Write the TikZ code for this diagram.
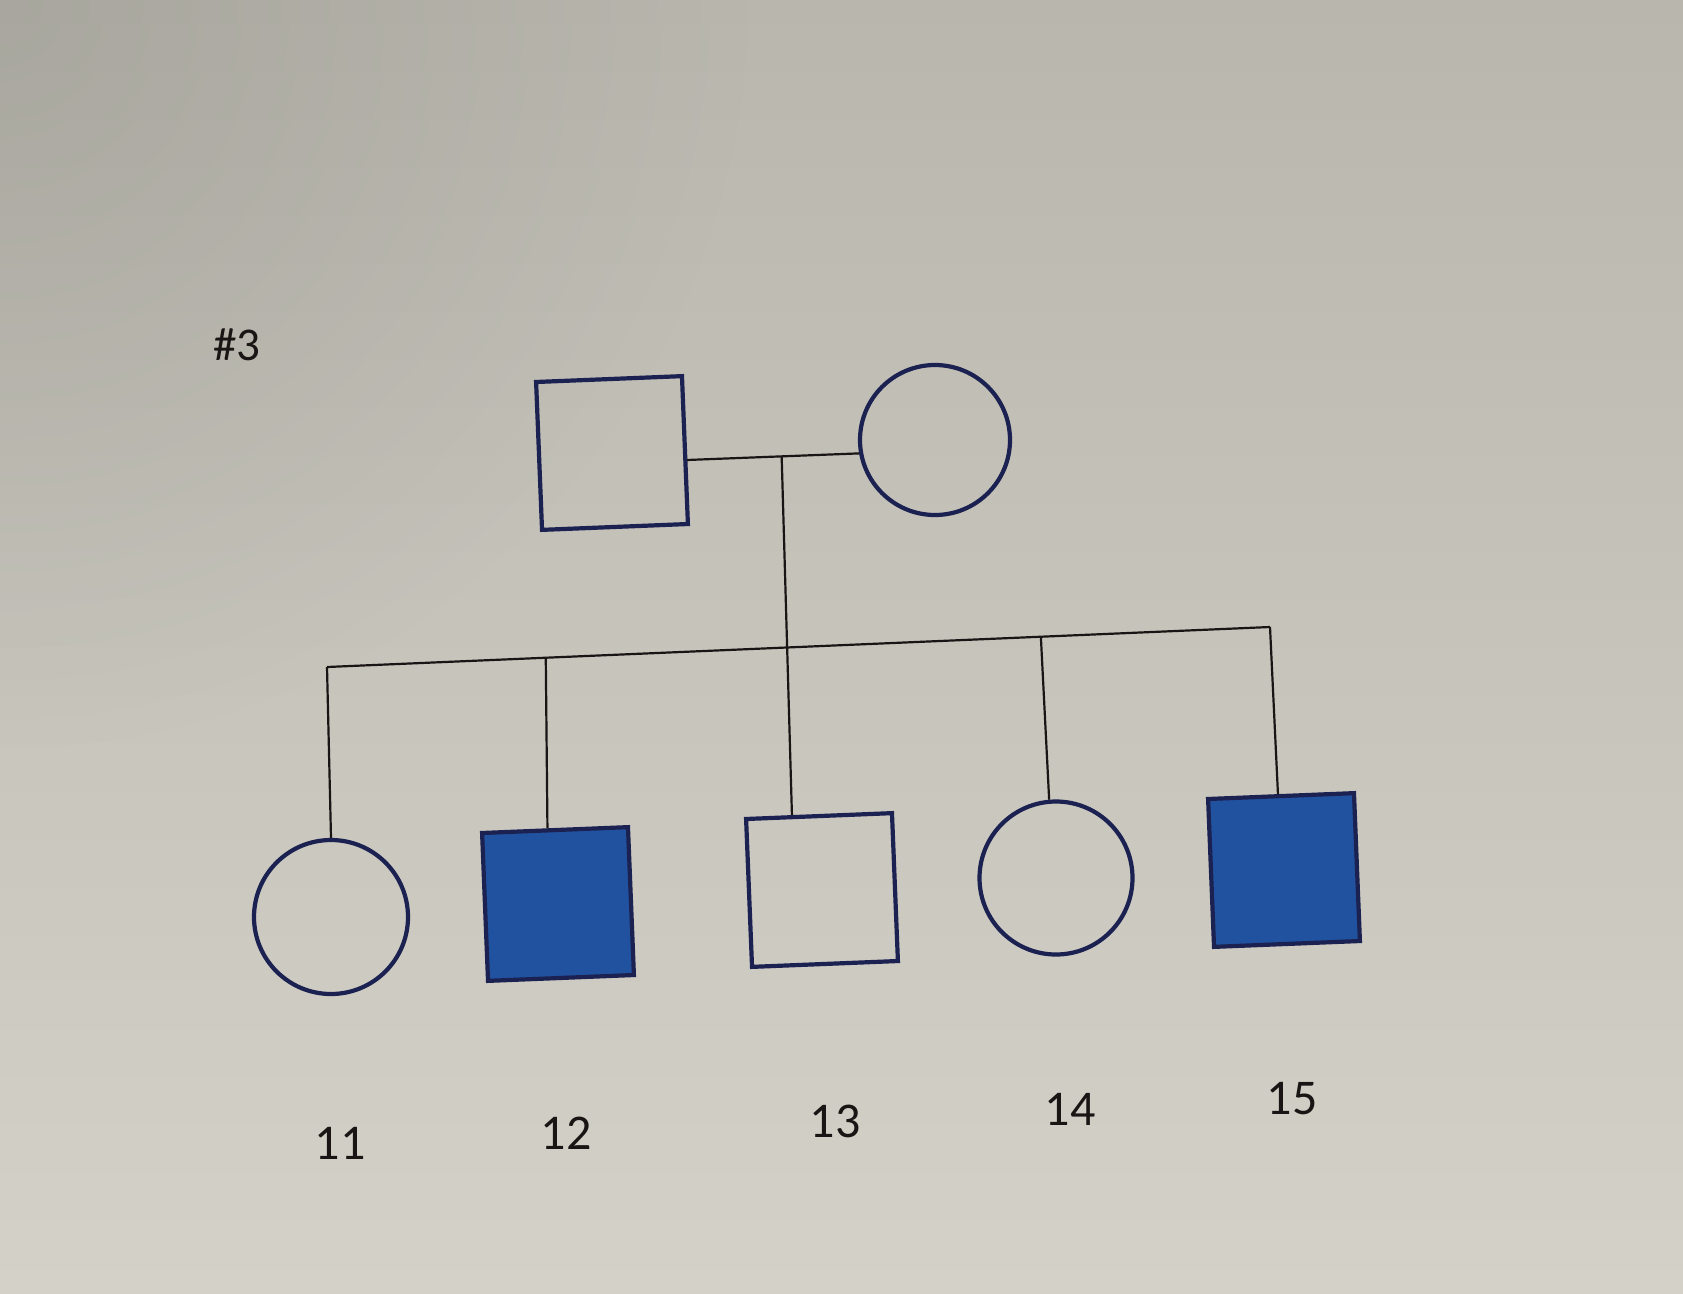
\documentclass[tikz,border=0pt]{standalone}
\usepackage{fontspec}
\setmainfont{Carlito}
\usetikzlibrary{calc,fadings}
\tikzfading[name=cornerfade, inner color=transparent!0, outer color=transparent!100]
\definecolor{bgtop}{HTML}{B8B6AD}
\definecolor{bgbot}{HTML}{D3D1C8}
\definecolor{bgdark}{HTML}{8E8D86}
\definecolor{navy}{HTML}{1B2150}
\definecolor{affblue}{HTML}{2152A0}
\definecolor{ink}{HTML}{1A1414}
\begin{document}
\begin{tikzpicture}[x=1pt,y=-1pt,
  person/.style={draw=navy, line width=4.2pt, inner sep=0pt},
  male/.style={person, rectangle, minimum width=146pt, minimum height=148pt, rotate=2.3},
  female/.style={person, circle, minimum size=152pt},
  affected/.style={fill=affblue},
  link/.style={draw=ink, line width=2.2pt},
  idlabel/.style={font=\fontsize{50}{60}\selectfont, text=ink, inner sep=0pt}]
\useasboundingbox (0,0) rectangle (1683,1293);
\shade[top color=bgtop, bottom color=bgbot] (0,0) rectangle (1683,1293);
\fill[bgdark, path fading=cornerfade, fill opacity=0.38] (0,0) circle[radius=750pt];

% parents
\node[male] (father) at (612,453) {};
\node[female, minimum size=150pt] (mother) at (935,440) {};
\coordinate (fa) at ($(father.east)+(0,10)$);
\draw[link] (fa) -- (mother.190);
\coordinate (mate) at ($(fa)!0.55!(mother.190)$);

% children
\node[female, minimum size=154pt] (c11) at (331,917) {};
\node[male, affected] (c12) at (558,904) {};
\node[male] (c13) at (822,890) {};
\node[female, minimum size=153pt] (c14) at (1056,878) {};
\node[male, affected] (c15) at (1284,870) {};

% sibship line
\coordinate (sl) at (327,667);
\coordinate (sr) at (1270,627);
\coordinate (s12) at ($(sl)!0.232!(sr)$);
\coordinate (s14) at ($(sl)!0.757!(sr)$);
\draw[link] (sl) -- (sr);
\draw[link] (sl) -- (c11.north);
\draw[link] (s12) -- ($(c12.north west)!0.45!(c12.north east)$);
\draw[link] (mate) -- ($(c13.north west)!0.32!(c13.north east)$);
\draw[link] (s14) -- (c14.95);
\draw[link] (sr) -- ($(c15.north west)!0.48!(c15.north east)$);

% labels
\node[idlabel, font=\fontsize{47}{56}\selectfont] (tag) at (237,345) {\#3};
\node[idlabel] (n11) at (340,1143) {11};
\node[idlabel] (n12) at (566,1133) {12};
\node[idlabel] (n13) at (835,1121) {13};
\node[idlabel] (n14) at (1070,1109) {14};
\node[idlabel] (n15) at (1292,1099) {15};
\end{tikzpicture}
\end{document}
